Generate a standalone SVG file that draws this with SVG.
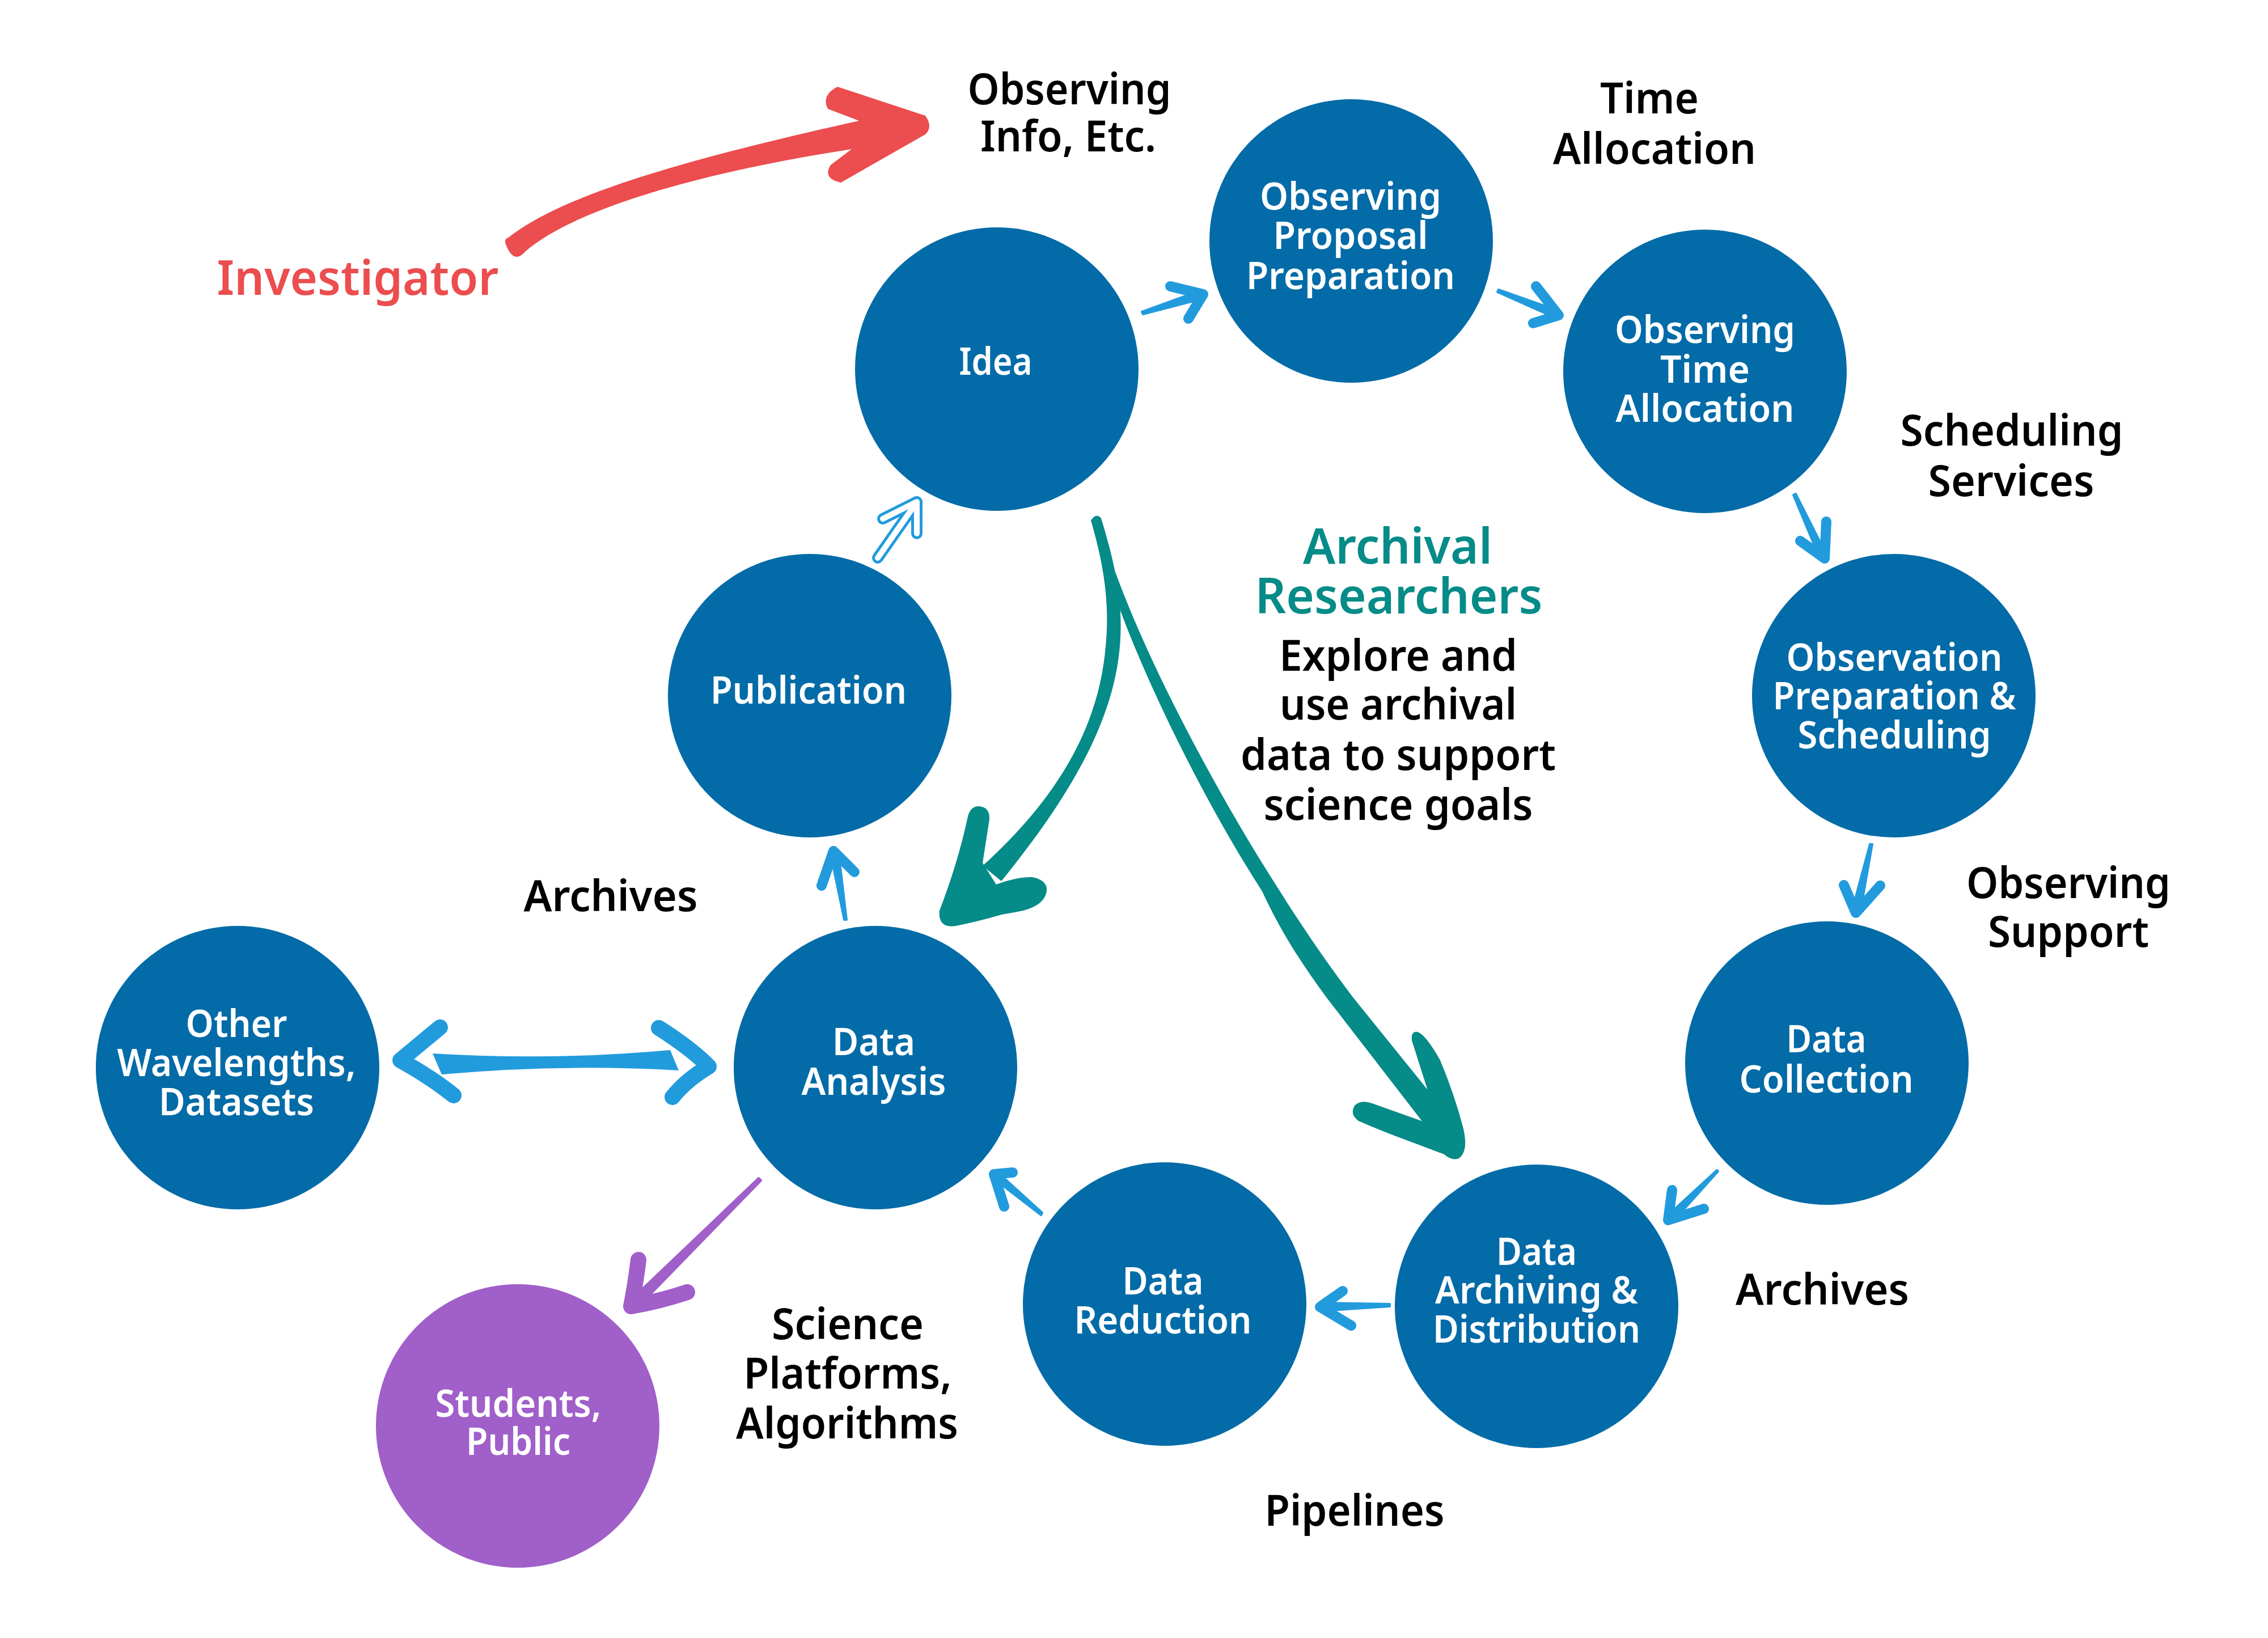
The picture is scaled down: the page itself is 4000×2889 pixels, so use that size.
<svg xmlns="http://www.w3.org/2000/svg" width="4000" height="2889" viewBox="0 0 4000 2889">
<style>
text{font-family:"Noto Sans","Open Sans","DejaVu Sans",sans-serif;font-weight:600;text-anchor:middle}
.node{fill:#036BA7}
.pur{fill:#A05FC9}
.nl{font-size:66px;fill:#FFFFFF}
.bl{font-size:76px;fill:#000000}
.inv{font-size:84px;fill:#EC4D4E}
.ar{font-size:87px;fill:#058B88}
.sh{fill:#229BDD;stroke:#229BDD;stroke-width:4;stroke-linejoin:round}
.hd{fill:none;stroke:#229BDD;stroke-width:18;stroke-linecap:round;stroke-linejoin:round}
.teal{fill:#058B88}
</style>
<rect width="4000" height="2889" fill="#FFFFFF"/>
<g id="connectors">
  <!-- Investigator red arrow -->
  <path fill="#EC4D4E" d="M 897,419 C 990,345 1200,283 1515,213 L 1460,192 Q 1448,168 1477,153 L 1632,204 Q 1646,224 1632,237 L 1483,322 Q 1450,315 1465,291 L 1502,263 C 1230,305 1010,370 926,444 Q 905,468 891,428 Q 890,421 897,419 Z"/>
  <!-- teal arrow to Data Analysis -->
  <path class="teal" d="M 1924,918 C 1945,990 1958,1060 1950,1140 C 1940,1260 1885,1390 1733,1527 L 1766,1554 C 1900,1390 1965,1260 1975,1140 C 1982,1060 1965,990 1942,914 Q 1933,904 1924,918 Z"/>
  <path class="teal" d="M 1745,1445 L 1733,1522 L 1757,1560 Q 1795,1546 1820,1547 Q 1848,1552 1846,1572 Q 1842,1596 1805,1606 Q 1780,1611 1767,1613 Q 1722,1626 1686,1633 Q 1654,1638 1657,1606 Q 1690,1520 1707,1440 Q 1712,1421 1727,1422 Q 1746,1424 1745,1445 Z"/>
  <!-- teal arrow to Data Archiving -->
  <path class="teal" d="M 1937,914 C 1985,1100 2135,1380 2251,1562 C 2300,1640 2345,1705 2387,1760 L 2521,1926 L 2510,1980 L 2340,1760 C 2300,1705 2262,1650 2226,1572 C 2108,1388 1967,1102 1927,918 Q 1930,906 1937,914 Z"/>
  <path class="teal" d="M 2490,1835 Q 2488,1818 2500,1820 Q 2514,1824 2540,1870 Q 2565,1930 2580,1987 Q 2591,2030 2573,2043 Q 2561,2048 2547,2036 Q 2505,2020 2470,2007 Q 2430,1992 2396,1977 Q 2380,1966 2389,1950 Q 2400,1939 2420,1946 Q 2462,1961 2510,1978 L 2517,1920 Z"/>
  <!-- blue cycle arrows -->
  <polygon class="sh" points="2016,554 2120,527 2116,513 2014,550"/>
  <path class="hd" d="M 2064,505 L 2122,519 L 2096,562"/>
  <polygon class="sh" points="2641,515 2742,560 2748,548 2643,511"/>
  <path class="hd" d="M 2709,505 L 2749,556 L 2704,570"/>
  <polygon class="sh" points="3163,873 3210,986 3222,980 3167,871"/>
  <path class="hd" d="M 3175,954 L 3218,985 L 3221,920"/>
  <polygon class="sh" points="3298,1489 3267,1604 3281,1608 3302,1489"/>
  <path class="hd" d="M 3252,1561 L 3273,1610 L 3316,1562"/>
  <polygon class="sh" points="3028,2064 2940,2145 2950,2155 3030,2066"/>
  <path class="hd" d="M 2949,2099 L 2942,2152 L 3005,2132"/>
  <polygon class="sh" points="2451,2300 2332,2298 2332,2312 2451,2304"/>
  <path class="hd" d="M 2368,2277 L 2328,2305 L 2383,2338"/>
  <polygon class="sh" points="1838,2139 1760,2068 1752,2078 1836,2143"/>
  <path class="hd" d="M 1786,2068 L 1753,2071 L 1771,2128"/>
  <polygon class="sh" points="1493,1622 1479,1504 1465,1506 1489,1622"/>
  <path class="hd" d="M 1449,1562 L 1470,1501 L 1507,1538"/>
  <!-- outlined arrow Publication -> Idea -->
  <g>
    <path d="M 1548,984 Q 1582,935 1616,887 M 1557,915 L 1617,885 L 1617,941" fill="none" stroke="#229BDD" stroke-width="20" stroke-linecap="round" stroke-linejoin="round"/>
    <path d="M 1548,984 Q 1582,935 1616,887 M 1557,915 L 1617,885 L 1617,941" fill="none" stroke="#FFFFFF" stroke-width="10" stroke-linecap="round" stroke-linejoin="round"/>
  </g>
  <!-- double arrow Other <-> Data Analysis -->
  <path fill="#229BDD" d="M 763,1858 Q 975,1871 1182,1852 L 1197,1888 Q 990,1876 779,1895 Z"/>
  <path class="hd" style="stroke-width:28" d="M 776,1812 Q 730,1850 706,1870 Q 760,1900 800,1932"/>
  <path class="hd" style="stroke-width:28" d="M 1162,1813 Q 1220,1850 1250,1881 Q 1210,1905 1186,1935"/>
  <!-- purple arrow to Students -->
  <polygon fill="#A05FC9" stroke="#A05FC9" stroke-width="4" stroke-linejoin="round" points="1338,2078 1124,2282 1136,2294 1342,2082"/>
  <path fill="none" stroke="#A05FC9" stroke-width="28" stroke-linecap="round" stroke-linejoin="round" d="M 1126,2222 Q 1120,2270 1113,2304 Q 1165,2295 1212,2279"/>
</g>
<g id="node-idea">
  <circle class="node" cx="1758" cy="651" r="250"/>
  <text class="nl" x="1756" y="661" textLength="129" lengthAdjust="spacingAndGlyphs">Idea</text>
</g>
<g id="node-proposal">
  <circle class="node" cx="2383" cy="425" r="250"/>
  <text class="nl" x="2382" y="370" textLength="320" lengthAdjust="spacingAndGlyphs">Observing</text>
  <text class="nl" x="2382" y="439" textLength="273" lengthAdjust="spacingAndGlyphs">Proposal</text>
  <text class="nl" x="2382" y="510" textLength="368" lengthAdjust="spacingAndGlyphs">Preparation</text>
</g>
<g id="node-time-allocation">
  <circle class="node" cx="3007" cy="655" r="250"/>
  <text class="nl" x="3007" y="605" textLength="318" lengthAdjust="spacingAndGlyphs">Observing</text>
  <text class="nl" x="3007" y="675" textLength="158" lengthAdjust="spacingAndGlyphs">Time</text>
  <text class="nl" x="3007" y="744" textLength="315" lengthAdjust="spacingAndGlyphs">Allocation</text>
</g>
<g id="node-observation-prep">
  <circle class="node" cx="3340" cy="1227" r="250"/>
  <text class="nl" x="3341" y="1183" textLength="381" lengthAdjust="spacingAndGlyphs">Observation</text>
  <text class="nl" x="3341" y="1251" textLength="429" lengthAdjust="spacingAndGlyphs">Preparation &amp;</text>
  <text class="nl" x="3341" y="1320" textLength="341" lengthAdjust="spacingAndGlyphs">Scheduling</text>
</g>
<g id="node-data-collection">
  <circle class="node" cx="3222" cy="1875" r="250"/>
  <text class="nl" x="3221" y="1856" textLength="141" lengthAdjust="spacingAndGlyphs">Data</text>
  <text class="nl" x="3221" y="1927" textLength="307" lengthAdjust="spacingAndGlyphs">Collection</text>
</g>
<g id="node-data-archiving">
  <circle class="node" cx="2710" cy="2304" r="250"/>
  <text class="nl" x="2710" y="2231" textLength="142" lengthAdjust="spacingAndGlyphs">Data</text>
  <text class="nl" x="2710" y="2299" textLength="358" lengthAdjust="spacingAndGlyphs">Archiving &amp;</text>
  <text class="nl" x="2710" y="2368" textLength="366" lengthAdjust="spacingAndGlyphs">Distribution</text>
</g>
<g id="node-data-reduction">
  <circle class="node" cx="2054" cy="2300" r="250"/>
  <text class="nl" x="2051" y="2283" textLength="143" lengthAdjust="spacingAndGlyphs">Data</text>
  <text class="nl" x="2051" y="2352" textLength="313" lengthAdjust="spacingAndGlyphs">Reduction</text>
</g>
<g id="node-data-analysis">
  <circle class="node" cx="1544" cy="1883" r="250"/>
  <text class="nl" x="1541" y="1861" textLength="146" lengthAdjust="spacingAndGlyphs">Data</text>
  <text class="nl" x="1541" y="1931" textLength="255" lengthAdjust="spacingAndGlyphs">Analysis</text>
</g>
<g id="node-publication">
  <circle class="node" cx="1428" cy="1227" r="250"/>
  <text class="nl" x="1426" y="1241" textLength="346" lengthAdjust="spacingAndGlyphs">Publication</text>
</g>
<g id="node-other-wavelengths">
  <circle class="node" cx="419" cy="1883" r="250"/>
  <text class="nl" x="417" y="1829" textLength="179" lengthAdjust="spacingAndGlyphs">Other</text>
  <text class="nl" x="417" y="1898" textLength="421" lengthAdjust="spacingAndGlyphs">Wavelengths,</text>
  <text class="nl" x="417" y="1967" textLength="274" lengthAdjust="spacingAndGlyphs">Datasets</text>
</g>
<g id="node-students">
  <circle class="pur" cx="913" cy="2515" r="250"/>
  <text class="nl" x="914" y="2499" textLength="293" lengthAdjust="spacingAndGlyphs">Students,</text>
  <text class="nl" x="914" y="2566" textLength="184" lengthAdjust="spacingAndGlyphs">Public</text>
</g>
<g id="labels">
  <text class="inv" x="631" y="520" textLength="497" lengthAdjust="spacingAndGlyphs">Investigator</text>
  <text class="bl" x="1886" y="184" textLength="359" lengthAdjust="spacingAndGlyphs">Observing</text>
  <text class="bl" x="1884" y="267" textLength="310" lengthAdjust="spacingAndGlyphs">Info, Etc.</text>
  <text class="bl" x="2909" y="200" textLength="174" lengthAdjust="spacingAndGlyphs">Time</text>
  <text class="bl" x="2918" y="289" textLength="358" lengthAdjust="spacingAndGlyphs">Allocation</text>
  <text class="bl" x="3548" y="786" textLength="393" lengthAdjust="spacingAndGlyphs">Scheduling</text>
  <text class="bl" x="3547" y="875" textLength="293" lengthAdjust="spacingAndGlyphs">Services</text>
  <text class="bl" x="3648" y="1584" textLength="360" lengthAdjust="spacingAndGlyphs">Observing</text>
  <text class="bl" x="3648" y="1670" textLength="284" lengthAdjust="spacingAndGlyphs">Support</text>
  <text class="bl" x="3214" y="2301" textLength="306" lengthAdjust="spacingAndGlyphs">Archives</text>
  <text class="bl" x="2389" y="2691" textLength="317" lengthAdjust="spacingAndGlyphs">Pipelines</text>
  <text class="bl" x="1495" y="2362" textLength="268" lengthAdjust="spacingAndGlyphs">Science</text>
  <text class="bl" x="1495" y="2449" textLength="367" lengthAdjust="spacingAndGlyphs">Platforms,</text>
  <text class="bl" x="1494" y="2537" textLength="392" lengthAdjust="spacingAndGlyphs">Algorithms</text>
  <text class="bl" x="1077" y="1607" textLength="307" lengthAdjust="spacingAndGlyphs">Archives</text>
  <text class="ar" x="2465" y="994" textLength="334" lengthAdjust="spacingAndGlyphs">Archival</text>
  <text class="ar" x="2467" y="1082" textLength="507" lengthAdjust="spacingAndGlyphs">Researchers</text>
  <text class="bl" x="2466" y="1183" textLength="420" lengthAdjust="spacingAndGlyphs">Explore and</text>
  <text class="bl" x="2466" y="1269" textLength="418" lengthAdjust="spacingAndGlyphs">use archival</text>
  <text class="bl" x="2466" y="1358" textLength="556" lengthAdjust="spacingAndGlyphs">data to support</text>
  <text class="bl" x="2466" y="1446" textLength="475" lengthAdjust="spacingAndGlyphs">science goals</text>
</g>
</svg>
